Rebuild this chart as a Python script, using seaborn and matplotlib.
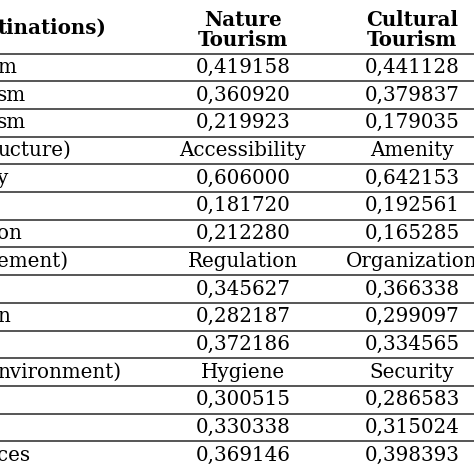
import matplotlib
matplotlib.use("Agg")
import matplotlib.pyplot as plt
import seaborn as sns

sns.set_theme(style="white")
plt.rcParams['font.family'] = ['DejaVu Serif']

header_left = "tinations)"
col_headers = ["Nature\nTourism", "Cultural\nTourism"]
row_labels = ["m", "sm", "sm", "ucture)", "y", "", "on", "ement)", "", "n", "", "nvironment)", "", "", "ces"]
nature = ["0,419158", "0,360920", "0,219923", "Accessibility", "0,606000", "0,181720", "0,212280",
          "Regulation", "0,345627", "0,282187", "0,372186", "Hygiene", "0,300515", "0,330338", "0,369146"]
cultural = ["0,441128", "0,379837", "0,179035", "Amenity", "0,642153", "0,192561", "0,165285",
            "Organization", "0,366338", "0,299097", "0,334565", "Security", "0,286583", "0,315024", "0,398393"]

fig = plt.figure(figsize=(4.74, 4.74), dpi=100)
ax = fig.add_axes([0, 0, 1, 1])
ax.set_xlim(0, 474)
ax.set_ylim(474, 0)
ax.axis("off")

top = 53.5
h = 27.7
fs = 14.3
c1, c2 = 243, 412
tc = "black"

ax.text(-3, 28, header_left, fontsize=fs, fontweight="bold", va="center", ha="left", color=tc)
ax.text(c1, 30, col_headers[0], fontsize=fs, fontweight="bold", va="center", ha="center", linespacing=1.05, color=tc)
ax.text(c2, 30, col_headers[1], fontsize=fs, fontweight="bold", va="center", ha="center", linespacing=1.05, color=tc)
ax.axhline(top, color="#555555", lw=1.4)
for i in range(len(nature)):
    yc = top + h * (i + 0.5)
    ax.text(-3, yc, row_labels[i], fontsize=fs, va="center", ha="left", color=tc)
    ax.text(c1, yc, nature[i], fontsize=fs, va="center", ha="center", color=tc)
    ax.text(c2, yc, cultural[i], fontsize=fs, va="center", ha="center", color=tc)
    if i < len(nature) - 1:
        ax.axhline(top + h * (i + 1), color="#555555", lw=1.4)

fig.savefig("out.png", dpi=100, facecolor="white")
